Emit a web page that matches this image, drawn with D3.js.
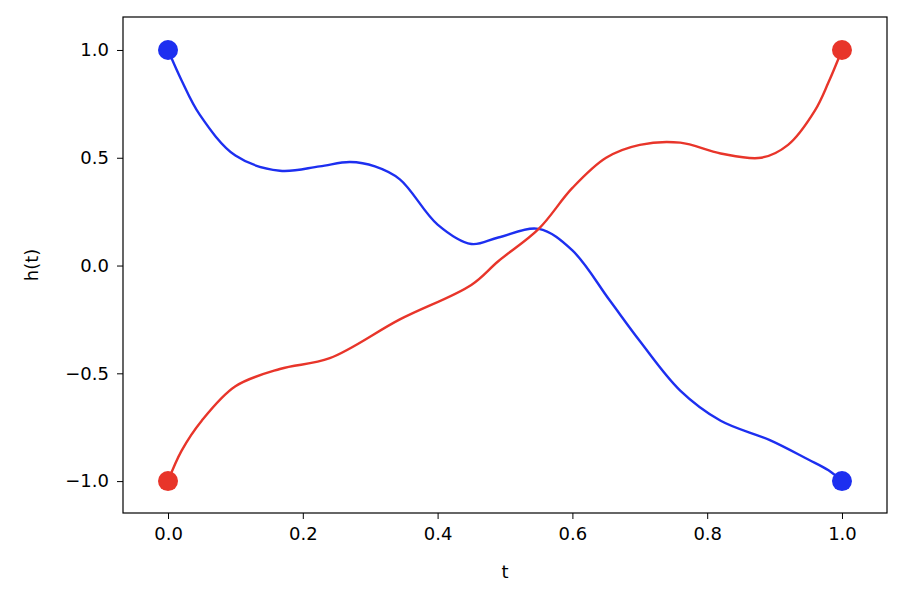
<!DOCTYPE html>
<html><head><meta charset="utf-8">
<script src="https://cdn.jsdelivr.net/npm/d3@7"></script>
<style>body{margin:0;background:#fff}text{font-family:"DejaVu Sans",sans-serif}</style>
</head><body><svg id="c" width="906" height="590"></svg>
<script>
const blueT = [0,0.02,0.047,0.1,0.166,0.225,0.27,0.307,0.344,0.4,0.45,0.49,0.55,0.6,0.655,0.7,0.76,0.82,0.893,0.95,0.98,1];
const blueH = [1,0.86,0.70,0.51,0.44,0.46,0.48,0.46,0.40,0.19,0.10,0.13,0.17,0.07,-0.16,-0.35,-0.58,-0.72,-0.81,-0.90,-0.95,-1];
const redT = [0,0.02,0.05,0.1,0.166,0.24,0.344,0.45,0.49,0.55,0.6,0.65,0.7,0.76,0.82,0.88,0.92,0.96,0.98,1];
const redH = [-1,-0.86,-0.72,-0.56,-0.48,-0.43,-0.25,-0.09,0.02,0.17,0.36,0.50,0.56,0.57,0.52,0.50,0.56,0.72,0.85,1];
const xTicks = [0,0.2,0.4,0.6,0.8,1.0];
const yTicks = [-1,-0.5,0,0.5,1];
const svg = d3.select("#c");
const L=123,R=887,T=17,B=513;
const x = d3.scaleLinear().domain([-0.0668,1.0668]).range([L,R]);
const y = d3.scaleLinear().domain([-1.148,1.153]).range([B,T]);
const fmt = v => (v<0?"\u2212":"")+Math.abs(v).toFixed(1);
const gx = svg.append("g").attr("transform",`translate(0,${B})`).call(d3.axisBottom(x).tickValues(xTicks).tickFormat(fmt).tickSizeOuter(0).tickSize(6).tickPadding(8));
const gy = svg.append("g").attr("transform",`translate(${L},0)`).call(d3.axisLeft(y).tickValues(yTicks).tickFormat(fmt).tickSizeOuter(0).tickSize(6).tickPadding(8));
[gx,gy].forEach(g=>{g.select(".domain").remove();g.selectAll("text").attr("font-size",18).attr("fill","#000").style("font-family","DejaVu Sans");g.selectAll("line").attr("stroke","#000");});
svg.append("rect").attr("x",L).attr("y",T).attr("width",R-L).attr("height",B-T).attr("fill","none").attr("stroke","#000").attr("stroke-width",1.2);
const line = d3.line().curve(d3.curveCatmullRom);
function draw(ts,hs,col){
  svg.append("path").attr("d",line(ts.map((t,i)=>[x(t),y(hs[i])]))).attr("fill","none").attr("stroke",col).attr("stroke-width",2.4);
}
draw(blueT,blueH,"#1d2ff0");
draw(redT,redH,"#e8352a");
[[0,1,"#1d2ff0"],[1,-1,"#1d2ff0"],[0,-1,"#e8352a"],[1,1,"#e8352a"]].forEach(([t,h,c])=>svg.append("circle").attr("cx",x(t)).attr("cy",y(h)).attr("r",10).attr("fill",c));
svg.append("text").attr("x",(L+R)/2).attr("y",578).attr("text-anchor","middle").attr("font-size",18).text("t");
svg.append("text").attr("transform",`translate(38,${(T+B)/2}) rotate(-90)`).attr("text-anchor","middle").attr("font-size",18).text("h(t)");
</script></body></html>
